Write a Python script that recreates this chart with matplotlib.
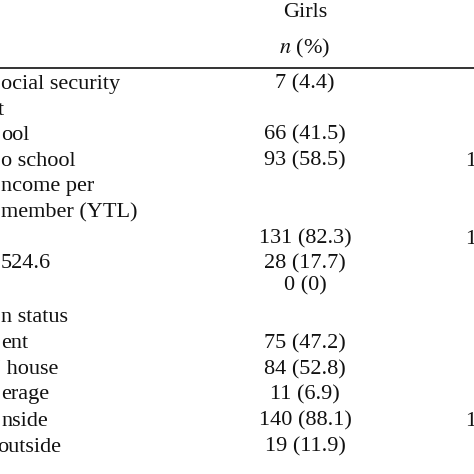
import matplotlib
matplotlib.use("Agg")
import matplotlib.pyplot as plt

header = "Girls"
subheader = "n (%)"
left_labels = ["ocial security", "t", "ool", "o school", "ncome per", "member (YTL)", "",
               "524.6", "", "n status", "ent", "' house", "erage", "nside", "outside"]
left_x = [1, -2, 1, 1, 1, 1, 0, 1, 0, 1, 1, -3, 1, 1, -3]
girls = ["7 (4.4)", "", "66 (41.5)", "93 (58.5)", "", "", "131 (82.3)", "28 (17.7)", "0 (0)",
         "", "75 (47.2)", "84 (52.8)", "11 (6.9)", "140 (88.1)", "19 (11.9)"]
right = ["", "", "", "1", "", "", "1", "", "", "", "", "", "", "1", ""]
row_y = [84, 110, 135, 161, 187, 213, 239, 264, 286, 318, 344, 370, 395, 421, 447]

fig = plt.figure(figsize=(4.74, 4.74), dpi=100)
ax = fig.add_axes([0, 0, 1, 1])
ax.set_xlim(0, 474); ax.set_ylim(474, 0); ax.axis("off")
fs = 16
kw = dict(family="Liberation Serif", fontsize=fs, va="center", color="#111111")
ax.text(305, 12, header, ha="center", **kw)
ax.text(305, 48, "$n$ (%)", ha="center", family="Liberation Serif", fontsize=fs, va="center",
        color="#111111", math_fontfamily="stix")
ax.plot([0, 474], [68, 68], color="#111111", lw=1.2)
for lab, lx, g, r, y in zip(left_labels, left_x, girls, right, row_y):
    if lab: ax.text(lx, y, lab, ha="left", **kw)
    if g: ax.text(305, y, g, ha="center", **kw)
    if r: ax.text(465, y, r, ha="left", **kw)
fig.savefig("out.png", dpi=100)
